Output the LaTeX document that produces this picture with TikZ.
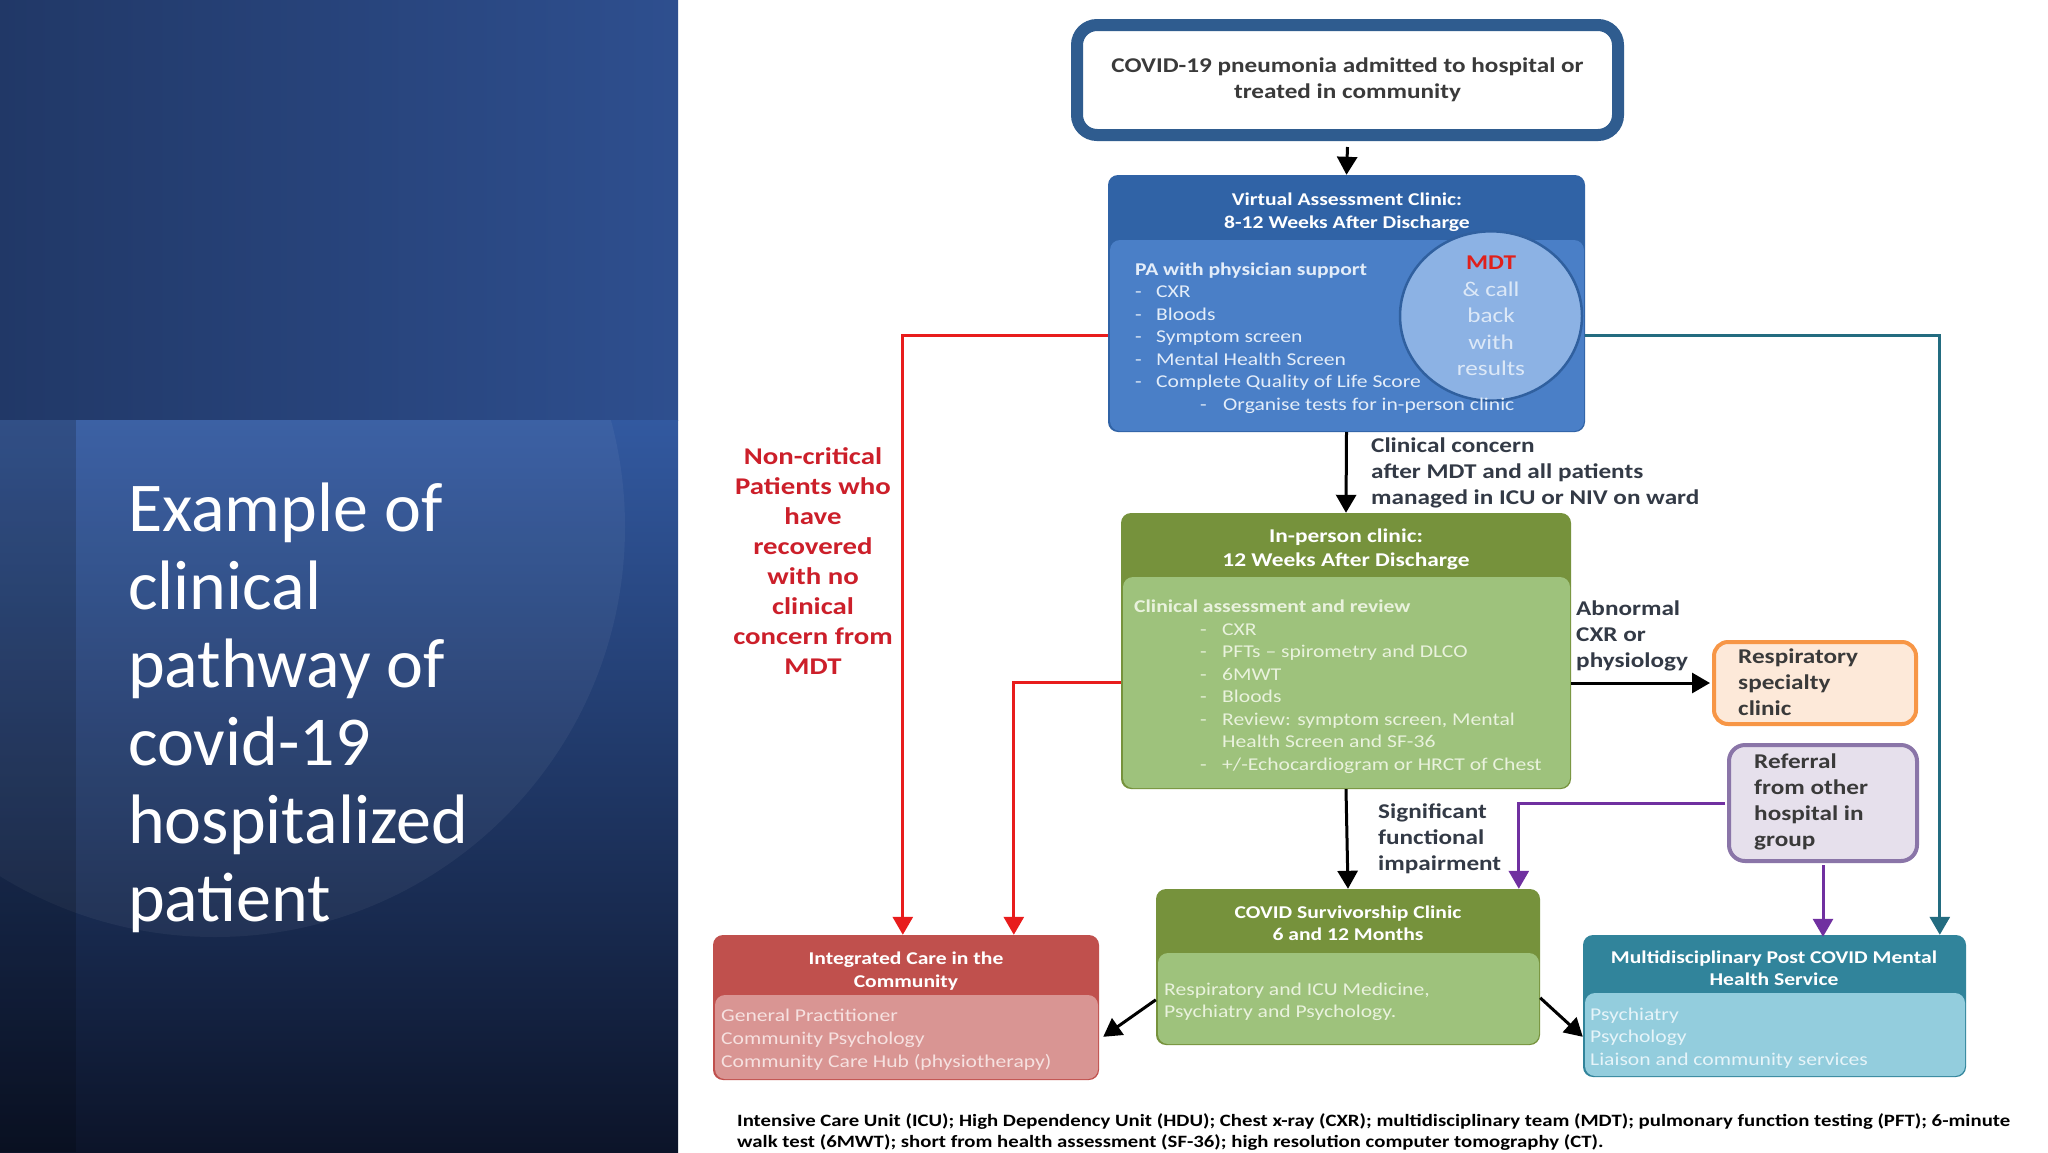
\documentclass[tikz,border=0pt]{standalone}
\usepackage{fontspec}
\setmainfont{Carlito}
\newfontfamily\dg{Carlito}[FakeStretch=1.2]
\usetikzlibrary{shapes.geometric,arrows.meta,calc}
\definecolor{slideA}{HTML}{213867}
\definecolor{slideB}{HTML}{2E4F8F}
\definecolor{slideC}{HTML}{3259A0}
\definecolor{slideD}{HTML}{0C1429}
\definecolor{topblue}{HTML}{2F5C8F}
\definecolor{darktext}{HTML}{3A3A3A}
\definecolor{lbltext}{HTML}{333A46}
\definecolor{vblueD}{HTML}{3063A6}
\definecolor{vblueL}{HTML}{4A7FC7}
\definecolor{circF}{HTML}{8CB2E4}
\definecolor{circB}{HTML}{30609F}
\definecolor{circT}{HTML}{DCE8F7}
\definecolor{mdtred}{HTML}{E0201B}
\definecolor{vtext}{HTML}{E3EDF9}
\definecolor{gD}{HTML}{76923C}
\definecolor{gL}{HTML}{9EC27C}
\definecolor{gtext}{HTML}{E9F2DD}
\definecolor{rD}{HTML}{C0504D}
\definecolor{rL}{HTML}{D99593}
\definecolor{rtext}{HTML}{F6E1E0}
\definecolor{tD}{HTML}{31849B}
\definecolor{tL}{HTML}{93CDDD}
\definecolor{ttext}{HTML}{E6F4F9}
\definecolor{peach}{HTML}{FDE9D9}
\definecolor{orangeB}{HTML}{F79646}
\definecolor{lav}{HTML}{E6E0EC}
\definecolor{purpB}{HTML}{8A75A8}
\definecolor{purpline}{HTML}{7030A0}
\definecolor{tealline}{HTML}{236C80}
\definecolor{redline}{HTML}{E81C1C}
\definecolor{redlbl}{HTML}{CC1F2A}
\begin{document}
\begin{tikzpicture}[x=1pt,y=-1pt,
  box/.style={rounded corners=10pt, inner sep=0pt, draw=none},
  hdr/.style={anchor=north, inner sep=0pt, align=center, text=white, font=\dg\bfseries\fontsize{18}{23}\selectfont},
  bodytxt/.style={anchor=north west, inner sep=0pt, align=left, font=\dg\fontsize{18}{22.5}\selectfont},
  lbl/.style={anchor=north west, inner sep=0pt, align=left, text=lbltext, font=\dg\bfseries\fontsize{21}{26}\selectfont},
  arr/.style={-{Triangle[width=20pt,length=18pt]}, line width=3pt, draw=black},
  redarr/.style={arr, draw=redline, -{Triangle[width=20pt,length=18pt,fill=redline]}},
  tealarr/.style={arr, draw=tealline, -{Triangle[width=20pt,length=18pt,fill=tealline]}},
  purparr/.style={arr, draw=purpline, -{Triangle[width=20pt,length=18pt,fill=purpline]}}]
\useasboundingbox (0,0) rectangle (2048,1152);
\fill[white] (0,0) rectangle (2048,1152);
% left slide panel
\shade[left color=slideA, right color=slideB] (0,0) rectangle (678,420);
\shade[top color=slideC, bottom color=slideD] (0,420) rectangle (678,1152);
\begin{scope}
  \clip (0,420) rectangle (678,1152);
  \fill[white, opacity=0.05] (215,527) circle[radius=410];
\end{scope}
\fill[black, opacity=0.18] (0,420) rectangle (76,1152);
\node[anchor=north west, inner sep=0pt, align=left, text=white, font=\fontsize{70}{78}\selectfont] (title) at (128,483)
  {Example of\\clinical\\pathway of\\covid-19\\hospitalized\\patient};

% top box
\node[draw=topblue, line width=12pt, fill=white, rounded corners=20pt, minimum width=541pt, minimum height=110pt, inner sep=0pt, align=center, text=darktext, font=\dg\bfseries\fontsize{21}{26}\selectfont] (top) at (1347.5,80)
  {COVID-19 pneumonia admitted to hospital or\\treated in community};

% virtual assessment clinic
\node[box, fill=vblueD, minimum width=477pt, minimum height=257pt] (virt) at (1346.5,303.5) {};
\node[box, fill=vblueL, minimum width=474pt, minimum height=191pt] (virtbody) at (1347,335.5) {};
\node[ellipse, draw=circB, line width=2.5pt, fill=circF, minimum width=182pt, minimum height=144pt, inner sep=0pt, align=center, text=circT, font=\dg\fontsize{21}{26.5}\selectfont] (mdt) at (1491,316)
  {\textcolor{mdtred}{\textbf{MDT}}\\\& call\\back\\with\\results};
\node[hdr] (virthdr) at (1347,192.5) {Virtual Assessment Clinic:\\8-12 Weeks After Discharge};
\node[bodytxt, text=vtext] (virttxt) at (1135,262.5)
  {\textbf{PA with physician support}\\\makebox[21pt][l]{-}CXR\\\makebox[21pt][l]{-}Bloods\\\makebox[21pt][l]{-}Symptom screen\\\makebox[21pt][l]{-}Mental Health Screen\\\makebox[21pt][l]{-}Complete Quality of Life Score\\\hspace*{65pt}\makebox[23pt][l]{-}Organise tests for in-person clinic};

% in-person clinic
\node[box, fill=gD, minimum width=450pt, minimum height=276pt] (inperson) at (1346,651) {};
\node[box, fill=gL, minimum width=447pt, minimum height=211pt] (inbody) at (1346.5,682.5) {};
\node[hdr, font=\dg\bfseries\fontsize{19.5}{24}\selectfont] (inhdr) at (1346,529) {In-person clinic:\\12 Weeks After Discharge};
\node[bodytxt, text=gtext] (intxt) at (1134,600)
  {\textbf{Clinical assessment and review}\\\hspace*{66pt}\makebox[22pt][l]{-}CXR\\\hspace*{66pt}\makebox[22pt][l]{-}PFTs – spirometry and DLCO\\\hspace*{66pt}\makebox[22pt][l]{-}6MWT\\\hspace*{66pt}\makebox[22pt][l]{-}Bloods\\\hspace*{66pt}\makebox[22pt][l]{-}Review: symptom screen, Mental\\\hspace*{88pt}Health Screen and SF-36\\\hspace*{66pt}\makebox[22pt][l]{-}+/-Echocardiogram or HRCT of Chest};

% respiratory specialty clinic
\node[draw=orangeB, fill=peach, line width=4pt, rounded corners=14pt, minimum width=202pt, minimum height=82pt, inner sep=0pt] (resp) at (1815,683) {};
\node[lbl, text=darktext] (resptxt) at (1738,649) {Respiratory\\specialty\\clinic};

% referral
\node[draw=purpB, fill=lav, line width=4pt, rounded corners=16pt, minimum width=188pt, minimum height=116pt, inner sep=0pt] (refer) at (1823,803) {};
\node[lbl, text=darktext] (refertxt) at (1754,754) {Referral\\from other\\hospital in\\group};

% survivorship clinic
\node[box, fill=gD, minimum width=384pt, minimum height=156pt] (surv) at (1348,967) {};
\node[box, fill=gL, minimum width=381pt, minimum height=91pt] (survbody) at (1348.5,998.5) {};
\node[hdr, font=\dg\bfseries\fontsize{18}{22}\selectfont] (survhdr) at (1348,905.5) {COVID Survivorship Clinic\\6 and 12 Months};
\node[bodytxt, text=gtext] (survtxt) at (1164,982.5) {Respiratory and ICU Medicine,\\Psychiatry and Psychology.};

% integrated care
\node[box, fill=rD, minimum width=386pt, minimum height=145pt] (integ) at (906,1007.5) {};
\node[box, fill=rL, minimum width=383pt, minimum height=84pt] (integbody) at (906.5,1037) {};
\node[hdr] (integhdr) at (906,951.5) {Integrated Care in the\\Community};
\node[bodytxt, text=rtext, font=\dg\fontsize{18}{23}\selectfont] (integtxt) at (721,1008.5) {General Practitioner\\Community Psychology\\Community Care Hub (physiotherapy)};

% mental health service
\node[box, fill=tD, minimum width=383pt, minimum height=142pt] (mental) at (1774.5,1006) {};
\node[box, fill=tL, minimum width=380pt, minimum height=83pt] (mentalbody) at (1775,1034.5) {};
\node[hdr, font=\dg\bfseries\fontsize{18}{22}\selectfont] (mentalhdr) at (1774,950.5) {Multidisciplinary Post COVID Mental\\Health Service};
\node[bodytxt, text=ttext] (mentaltxt) at (1590,1007.5) {Psychiatry\\Psychology\\Liaison and community services};

% labels
\node[lbl] (lblconcern) at (1371,438) {Clinical concern\\after MDT and all patients\\managed in ICU or NIV on ward};
\node[lbl] (lblabn) at (1576,601) {Abnormal\\CXR or\\physiology};
\node[lbl] (lblsig) at (1378,804) {Significant\\functional\\impairment};
\node[anchor=north, inner sep=0pt, align=center, text=redlbl, font=\dg\bfseries\fontsize{24}{30}\selectfont] (lblnon) at (813,447)
  {Non-critical\\Patients who\\have\\recovered\\with no\\clinical\\concern from\\MDT};
\node[anchor=north west, inner sep=0pt, align=left, text=black, font=\dg\bfseries\fontsize{17.3}{21}\selectfont] (foot) at (737,1113)
  {Intensive Care Unit (ICU); High Dependency Unit (HDU); Chest x-ray (CXR); multidisciplinary team (MDT); pulmonary function testing (PFT); 6-minute\\walk test (6MWT); short from health assessment (SF-36); high resolution computer tomography (CT).};

% connectors
\draw[arr] ([yshift=-6pt]top.south) -- (virt.north);
\draw[arr] (virt.south) -- (inperson.north);
\draw[arr] (inperson.east |- resp.west) -- ([xshift=-2pt]resp.west);
\draw[arr] (inperson.south) -- (surv.north);
\draw[arr] ($(surv.north west)+(0,111)$) -- ($(integ.north east)+(4,102)$);
\draw[arr] ($(surv.north east)+(0,109)$) -- ($(mental.north west)+(0,102)$);
\draw[redarr] ($(virt.north west)+(0,161)$) -| ($(integ.north west)+(190,0)$);
\draw[redarr] ($(inperson.north west)+(0,170)$) -| ($(integ.north west)+(301,0)$);
\draw[tealarr] ($(virt.north east)+(0,161)$) -| ($(mental.north west)+(357,0)$);
\draw[purparr] ([xshift=-2pt]refer.west) -| ($(surv.north west)+(363,0)$);
\draw[purparr] ([yshift=-2pt]refer.south) -- ([yshift=-2pt]refer.south |- mental.north);
\end{tikzpicture}
\end{document}
